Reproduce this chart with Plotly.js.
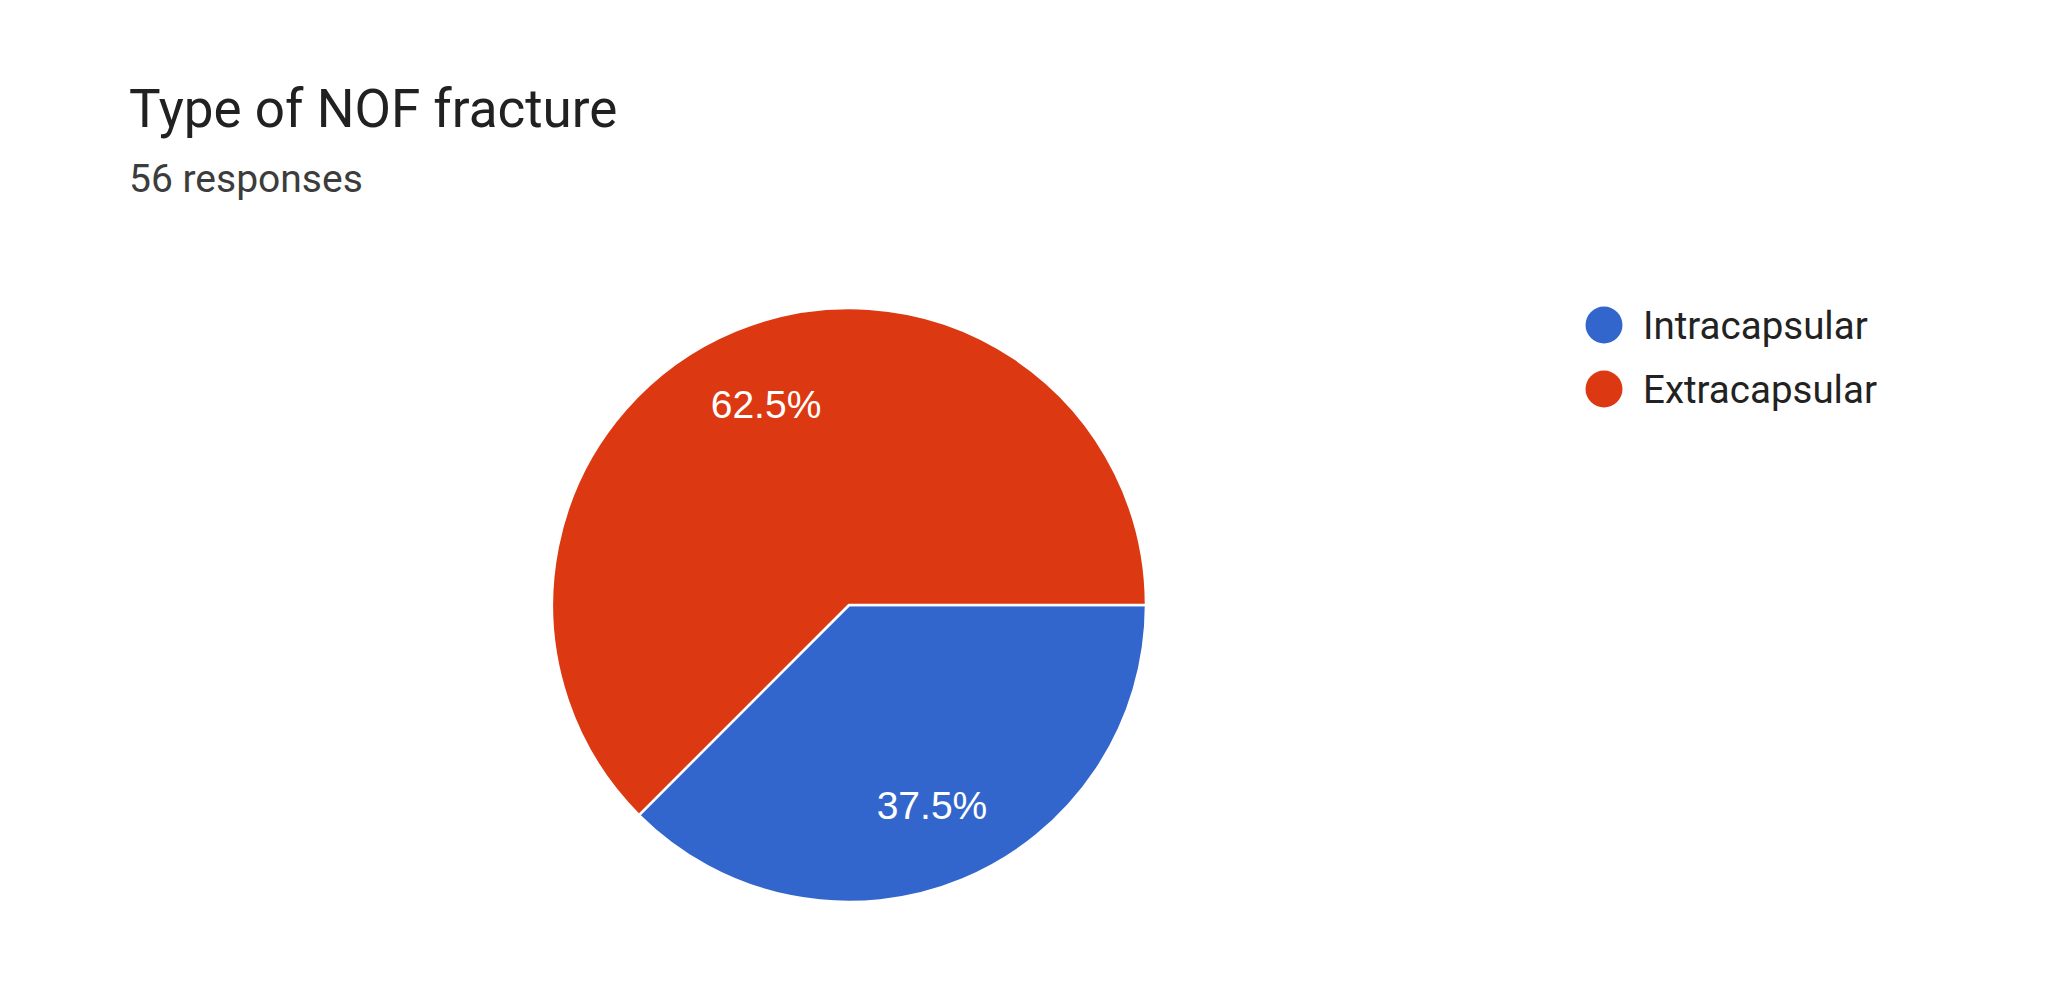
<!DOCTYPE html>
<html>
<head>
<meta charset="utf-8">
<script src="https://cdn.plot.ly/plotly-3.0.1.min.js"></script>
<style>
  html, body { margin: 0; padding: 0; background: #fff; }
  #chart { width: 2048px; height: 989px; }
</style>
</head>
<body>
<div id="chart"></div>
<script>
// data: 56 responses
const labels = ['Intracapsular', 'Extracapsular'];
const counts = [21, 35];
const colors = ['#3366cc', '#dc3912'];
const chartTitle = 'Type of NOF fracture';
const subTitle = '56 responses';

const W = 2048, H = 989;
const px = x => x / W;           // pixel -> paper x
const py = y => 1 - y / H;       // pixel (from top) -> paper y

// pie box: centre (849, 605), radius 297
const dom = { x: [px(849 - 297), px(849 + 297)], y: [py(605 + 297), py(605 - 297)] };

const base = {
    type: 'pie',
    labels: labels,
    values: counts,
    sort: false,
    direction: 'clockwise',
    rotation: 90,
    domain: dom,
    showlegend: false,
    hoverinfo: 'label+value+percent'
};

// the coloured slices
const slices = Object.assign({}, base, {
    marker: { colors: colors, line: { color: '#ffffff', width: 2.5 } },
    textinfo: 'none'
});

// same slices, no fill, only to carry the percent labels further out
const pctLabels = Object.assign({}, base, {
    hole: 0.46,
    marker: { colors: ['rgba(0,0,0,0)', 'rgba(0,0,0,0)'], line: { width: 0 } },
    texttemplate: '%{percent:.1%}',
    textposition: 'inside',
    insidetextorientation: 'horizontal',
    insidetextfont: { family: 'Liberation Sans, Arial, sans-serif', size: 39, color: '#ffffff' },
    hoverinfo: 'skip'
});

const legendY = [325, 389];
const shapes = labels.map((l, i) => ({
    type: 'circle', xref: 'paper', yref: 'paper',
    xsizemode: 'pixel', ysizemode: 'pixel',
    xanchor: px(1604), yanchor: py(legendY[i]),
    x0: -18.5, x1: 18.5, y0: -18.5, y1: 18.5,
    fillcolor: colors[i], line: { width: 0 }
}));

const annotations = labels.map((l, i) => ({
    text: l, xref: 'paper', yref: 'paper',
    x: px(1641), y: py(legendY[i]), xanchor: 'left', yanchor: 'middle',
    showarrow: false,
    font: { family: 'Roboto, sans-serif', size: 38.5, color: '#222222' }
}));
annotations.push({
    text: subTitle, xref: 'paper', yref: 'paper',
    x: px(127), y: py(179), xanchor: 'left', yanchor: 'middle',
    showarrow: false,
    font: { family: 'Roboto, sans-serif', size: 39, color: '#3c3c3c' }
});

const layout = {
    width: W,
    height: H,
    margin: { l: 0, r: 0, t: 0, b: 0 },
    paper_bgcolor: '#ffffff',
    showlegend: false,
    title: {
        text: chartTitle,
        xref: 'paper', yref: 'container',
        x: px(129), xanchor: 'left',
        y: py(108), yanchor: 'middle',
        font: { family: 'Roboto, sans-serif', size: 53, color: '#212121' }
    },
    shapes: shapes,
    annotations: annotations
};

Plotly.newPlot('chart', [slices, pctLabels], layout, { displayModeBar: false, staticPlot: true });
</script>
</body>
</html>
